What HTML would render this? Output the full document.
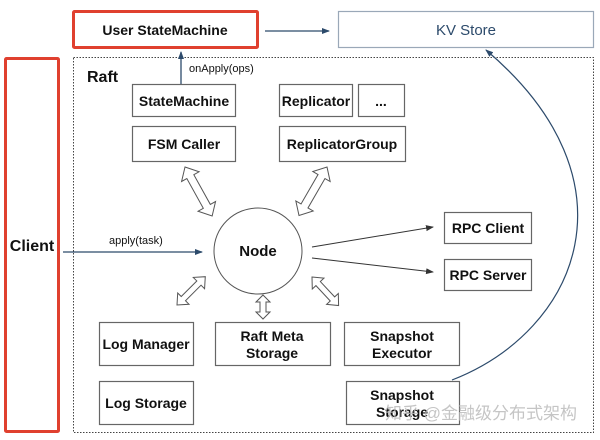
<!DOCTYPE html>
<html><head><meta charset="utf-8"><style>
html,body{margin:0;padding:0;background:#fff;width:600px;height:440px;overflow:hidden}
svg{display:block}
text{font-family:"Liberation Sans",Arial,sans-serif;font-weight:bold;font-size:14px;fill:#111}
.n{font-weight:normal;font-size:11px}
.b{fill:#fff;stroke:#666;stroke-width:1.2}
.da{fill:#fff;stroke:#555;stroke-width:1}
</style></head><body>
<svg width="600" height="440" viewBox="0 0 600 440">
<defs>
<marker id="ar" markerWidth="8" markerHeight="8" refX="7" refY="4" orient="auto" markerUnits="userSpaceOnUse"><path d="M0,1 L8,4 L0,7 z" fill="#2c4a6b"/></marker>
<marker id="ak" markerWidth="8" markerHeight="8" refX="7" refY="4" orient="auto" markerUnits="userSpaceOnUse"><path d="M0,1 L8,4 L0,7 z" fill="#333"/></marker>
</defs>
<rect x="73.5" y="57.5" width="520" height="375" fill="none" stroke="#444" stroke-width="1" stroke-dasharray="1.5,1.5"/>
<rect x="73.5" y="11.5" width="184" height="36" fill="#fff" stroke="#e0402f" stroke-width="3" rx="1"/>
<text x="165" y="35" text-anchor="middle">User StateMachine</text>
<rect x="338.5" y="11.5" width="255" height="36" fill="#fff" stroke="#9aa8b8" stroke-width="1.2"/>
<text x="466" y="35" text-anchor="middle" style="font-weight:normal;fill:#2c4a6b;font-size:15px">KV Store</text>
<line x1="265" y1="31" x2="329" y2="31" stroke="#2c4a6b" stroke-width="1.3" marker-end="url(#ar)"/>
<rect x="5.5" y="58.5" width="53" height="373" fill="#fff" stroke="#e0402f" stroke-width="3" rx="1"/>
<text x="32" y="251" text-anchor="middle" style="font-size:16px">Client</text>
<text x="87" y="82" style="font-size:16px">Raft</text>
<line x1="181" y1="84" x2="181" y2="52" stroke="#2c4a6b" stroke-width="1.3" marker-end="url(#ar)"/>
<text class="n" x="189" y="72">onApply(ops)</text>
<rect class="b" x="132.5" y="84.5" width="103" height="32"/><text x="184" y="106" text-anchor="middle">StateMachine</text>
<rect class="b" x="132.5" y="126.5" width="103" height="35"/><text x="184" y="149" text-anchor="middle">FSM Caller</text>
<rect class="b" x="279.5" y="84.5" width="73" height="32"/><text x="316" y="106" text-anchor="middle">Replicator</text>
<rect class="b" x="358.5" y="84.5" width="46" height="32"/><text x="381" y="106" text-anchor="middle">...</text>
<rect class="b" x="279.5" y="126.5" width="126" height="35"/><text x="342" y="149" text-anchor="middle">ReplicatorGroup</text>
<rect class="b" x="444.5" y="212.5" width="87" height="31"/><text x="488" y="233" text-anchor="middle">RPC Client</text>
<rect class="b" x="444.5" y="259.5" width="87" height="31"/><text x="488" y="280" text-anchor="middle">RPC Server</text>
<rect class="b" x="99.5" y="322.5" width="94" height="43"/><text x="146" y="349" text-anchor="middle">Log Manager</text>
<rect class="b" x="215.5" y="322.5" width="115" height="43"/><text x="272" y="341" text-anchor="middle">Raft Meta</text><text x="272" y="358" text-anchor="middle">Storage</text>
<rect class="b" x="344.5" y="322.5" width="115" height="43"/><text x="402" y="341" text-anchor="middle">Snapshot</text><text x="402" y="358" text-anchor="middle">Executor</text>
<rect class="b" x="99.5" y="381.5" width="94" height="43"/><text x="146" y="408" text-anchor="middle">Log Storage</text>
<rect class="b" x="346.5" y="381.5" width="113" height="43"/><text x="402" y="400" text-anchor="middle">Snapshot</text><text x="402" y="417" text-anchor="middle">Storage</text>
<ellipse cx="258" cy="251" rx="44" ry="43" fill="#fff" stroke="#555" stroke-width="1"/>
<text x="258" y="256" text-anchor="middle" style="font-size:15px">Node</text>
<line x1="63" y1="252" x2="202" y2="252" stroke="#2c4a6b" stroke-width="1.3" marker-end="url(#ar)"/>
<text class="n" x="109" y="244">apply(task)</text>
<line x1="312" y1="247" x2="433" y2="227" stroke="#333" stroke-width="1" marker-end="url(#ak)"/>
<line x1="312" y1="258" x2="433" y2="272" stroke="#333" stroke-width="1" marker-end="url(#ak)"/>
<path d="M452 380 C580 330 640 180 486 50" fill="none" stroke="#2c4a6b" stroke-width="1.2" marker-end="url(#ar)"/>
<g transform="translate(185,167) rotate(61)"><polygon class="da" points="0,0 11,-10 11,-4 45,-4 45,-10 56,0 45,10 45,4 11,4 11,10"/></g>
<g transform="translate(327,167) rotate(120)"><polygon class="da" points="0,0 11,-10 11,-4 45,-4 45,-10 56,0 45,10 45,4 11,4 11,10"/></g>
<g transform="translate(177,305) rotate(-45)"><polygon class="da" points="0,0 9,-8 9,-3 31,-3 31,-8 40,0 31,8 31,3 9,3 9,8"/></g>
<g transform="translate(263,295) rotate(90)"><polygon class="da" points="0,0 7,-7 7,-3 17,-3 17,-7 24,0 17,7 17,3 7,3 7,7"/></g>
<g transform="translate(312,277) rotate(47)"><polygon class="da" points="0,0 9,-8 9,-3 30,-3 30,-8 39,0 30,8 30,3 9,3 9,8"/></g>
<text x="385" y="419" style="font-family:'Liberation Sans','Noto Sans CJK SC',sans-serif;font-weight:normal;font-size:17px;fill:#bbb;opacity:0.85">知乎 @金融级分布式架构</text>
</svg>
</body></html>
